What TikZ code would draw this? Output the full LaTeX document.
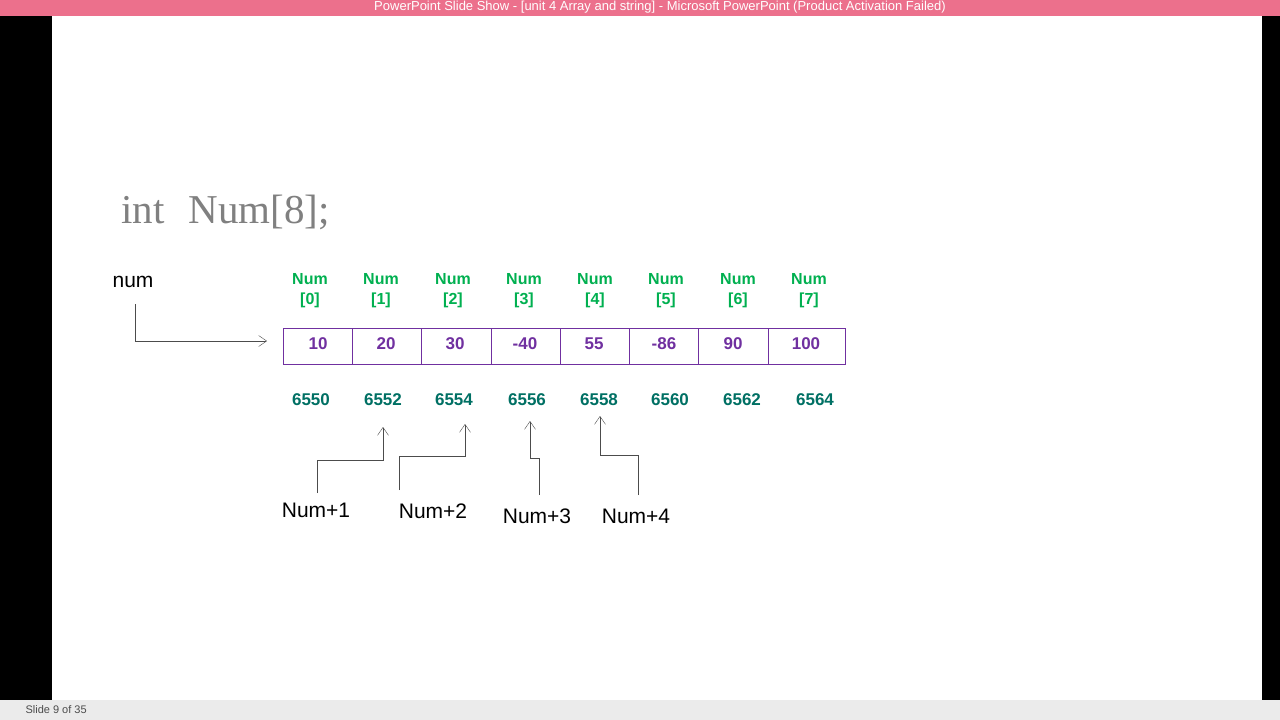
\documentclass[tikz,border=0pt]{standalone}
\usepackage{fontspec}
\setmainfont{Liberation Sans}
\newfontfamily\slideserif{Liberation Serif}
\usetikzlibrary{positioning,arrows.meta}
\definecolor{idxgreen}{RGB}{0,176,80}
\definecolor{valpurple}{RGB}{112,48,160}
\definecolor{addrteal}{RGB}{0,112,100}
\definecolor{titlepink}{RGB}{236,112,140}
\tikzset{
  idx/.style={text=idxgreen,font=\fontsize{16}{18}\selectfont\bfseries,align=center,inner sep=0pt},
  val/.style={text=valpurple,font=\fontsize{17}{19}\selectfont\bfseries,inner sep=0pt},
  addr/.style={text=addrteal,font=\fontsize{17}{19}\selectfont\bfseries,inner sep=0pt},
  ptr/.style={font=\fontsize{21}{23}\selectfont,inner sep=0pt},
  link/.style={draw=black!70,thin,-{Straight Barb[length=8pt,width=11pt]}}
}
\begin{document}
\begin{tikzpicture}[x=1pt,y=-1pt]
         \useasboundingbox (0,0) rectangle (1280,720);
         % window chrome
         \fill[white] (0,0) rectangle (1280,720);
         \fill[titlepink] (0,0) rectangle (1280,16);
         \node[text=white,font=\fontsize{13}{14}\selectfont] (title) at (660,7) {PowerPoint Slide Show - [unit 4 Array and string] - Microsoft PowerPoint (Product Activation Failed)};
         \fill[black] (0,16) rectangle (52,700);
         \fill[black] (1262,16) rectangle (1280,700);
         \fill[black!8] (0,700) rectangle (1280,720);
         \node[anchor=west,text=black!70,font=\fontsize{11}{12}\selectfont] (slide) at (22,710) {Slide 9 of 35};
         % declaration
         \node[text=black!50,font=\fontsize{41}{43}\selectfont\slideserif,anchor=west,inner sep=0pt] (decl) at (121,212) {int\hspace{24pt}Num[8];};
         % array cells
         \foreach \xa/\xb [count=\i from 0] in {283/352,352/421,421/491,491/560,560/629,629/698,698/768,768/845}
           \draw[valpurple] (\xa,328) rectangle (\xb,364);
         \foreach \x/\v [count=\i from 0] in {318/10,386/20,455/30,525/-40,594/55,664/-86,733/90,806/100}
           \node[val] (v\i) at (\x,344) {\v};
         \foreach \x [count=\i from 0] in {310,381,453,524,595,666,738,809}
           \node[idx] (n\i) at (\x,291) {Num\\[2pt][\i]};
         \foreach \x/\a [count=\i from 0] in {311/6550,383/6552,454/6554,527/6556,599/6558,670/6560,742/6562,815/6564}
           \node[addr] (a\i) at (\x,400) {\a};
         % pointer name
         \node[ptr] (num) at (133,282) {num};
         \coordinate (cell) at (267,341);
         \draw[link] (135,304) |- (cell);
         % pointer offsets
         \node[ptr] (p1) at (316,510) {Num+1};
         \node[ptr] (p2) at (433,511) {Num+2};
         \node[ptr] (p3) at (537,516) {Num+3};
         \node[ptr] (p4) at (636,516) {Num+4};
         \coordinate (t1) at (383,427);
         \coordinate (t2) at (465,424);
         \coordinate (t3) at (530,421);
         \coordinate (t4) at (600,416);
         \draw[link] (317,493) -- (317,460) -| (t1);
         \draw[link] (399,490) -- (399,456) -| (t2);
         \draw[link] (539,495) -- (539,458) -| (t3);
         \draw[link] (638,495) -- (638,455) -| (t4);
      \end{tikzpicture}
\end{document}
